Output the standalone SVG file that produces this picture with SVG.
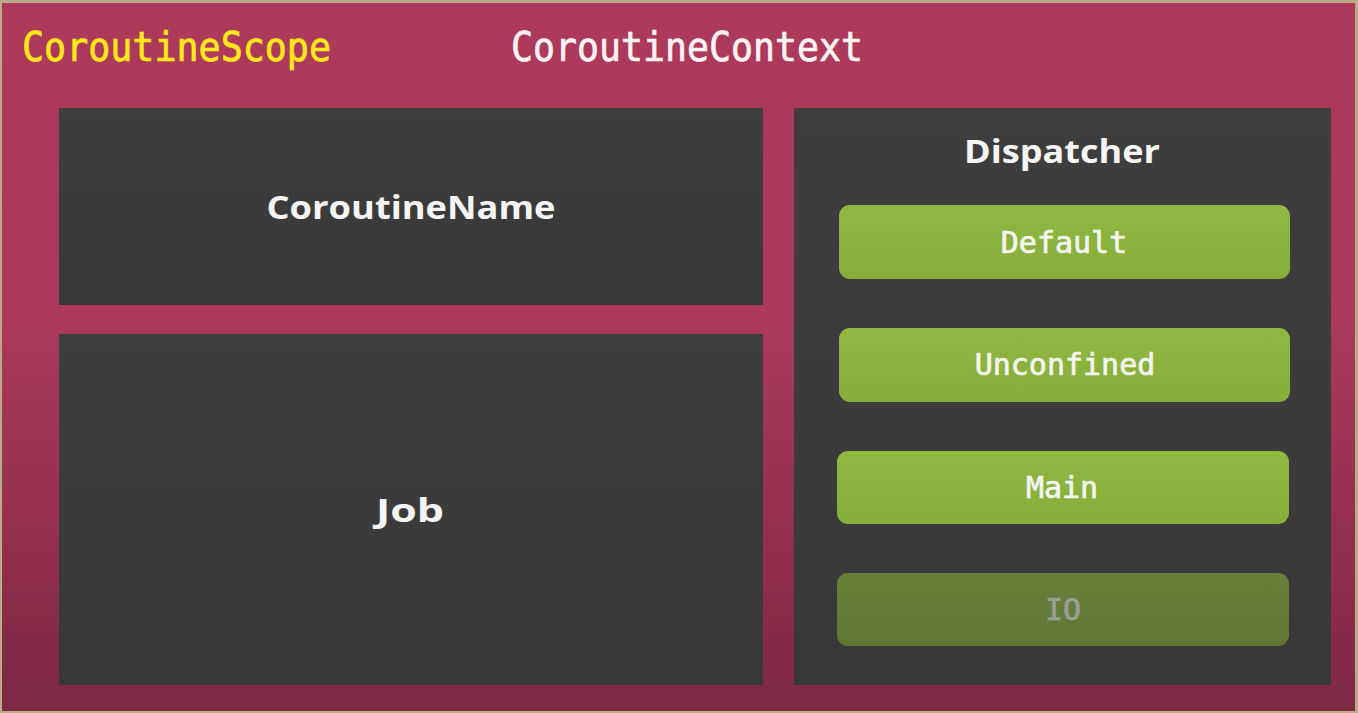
<svg xmlns="http://www.w3.org/2000/svg" width="1358" height="713" viewBox="0 0 1358 713">
  <defs>
    <linearGradient id="bg" x1="0" y1="0" x2="0" y2="1">
      <stop offset="0" stop-color="#AE3A5B"/>
      <stop offset="0.45" stop-color="#AC395A"/>
      <stop offset="1" stop-color="#7D2843"/>
    </linearGradient>
    <linearGradient id="dark" x1="0" y1="0" x2="0" y2="1">
      <stop offset="0" stop-color="#3E3E3E"/>
      <stop offset="1" stop-color="#383838"/>
    </linearGradient>
    <linearGradient id="green" x1="0" y1="0" x2="0" y2="1">
      <stop offset="0" stop-color="#90B740"/>
      <stop offset="1" stop-color="#87AE3B"/>
    </linearGradient>
    <linearGradient id="greenDim" x1="0" y1="0" x2="0" y2="1">
      <stop offset="0" stop-color="#68803A"/>
      <stop offset="1" stop-color="#5F7733"/>
    </linearGradient>
  </defs>
  <style>
    .panel { fill: url(#dark); }
    .btn { fill: url(#green); }
    .btn-dim { fill: url(#greenDim); }
    .mono { font-family: "DejaVu Sans Mono", "Liberation Mono", monospace; stroke-width: 0.7px; }
    .head { font-size: 40px; }
    .btn-text { font-size: 30px; fill: #F4F4F0; stroke: #F4F4F0; text-anchor: middle; }
    .sans { font-family: "Open Sans", "Liberation Sans", sans-serif; font-weight: 700; fill: #F5F5F5; text-anchor: middle; font-size: 32px; }
  </style>

  <rect x="0" y="0" width="1358" height="713" fill="#BDAA8A"/>
  <rect x="2" y="3" width="1353" height="708" fill="url(#bg)"/>

  <g id="scope-label">
    <text class="mono head" x="22" y="61" fill="#FFE81A" stroke="#FFE81A" textLength="309" lengthAdjust="spacingAndGlyphs">CoroutineScope</text>
  </g>
  <g id="context-label">
    <text class="mono head" x="511" y="61" fill="#F7F3F3" stroke="#F7F3F3" textLength="352" lengthAdjust="spacingAndGlyphs">CoroutineContext</text>
  </g>

  <g id="coroutine-name">
    <rect class="panel" x="59" y="108" width="704" height="197"/>
    <text class="sans" x="411" y="219" textLength="289" lengthAdjust="spacingAndGlyphs">CoroutineName</text>
  </g>

  <g id="job">
    <rect class="panel" x="59" y="334" width="704" height="351"/>
    <text class="sans" x="410" y="522" textLength="68" lengthAdjust="spacingAndGlyphs">Job</text>
  </g>

  <g id="dispatcher">
    <rect class="panel" x="794" y="108" width="537" height="577"/>
    <text class="sans" x="1062" y="163" textLength="196" lengthAdjust="spacingAndGlyphs">Dispatcher</text>
  </g>

  <g id="default">
    <rect class="btn" x="839" y="205" width="451" height="74" rx="11"/>
    <text class="mono btn-text" x="1064" y="253">Default</text>
  </g>
  <g id="unconfined">
    <rect class="btn" x="839" y="328" width="451" height="74" rx="11"/>
    <text class="mono btn-text" x="1065" y="375">Unconfined</text>
  </g>
  <g id="main">
    <rect class="btn" x="837" y="451" width="452" height="73" rx="11"/>
    <text class="mono btn-text" x="1062" y="498">Main</text>
  </g>
  <g id="io">
    <rect class="btn-dim" x="837" y="573" width="452" height="73" rx="11"/>
    <text class="mono btn-text" x="1063" y="620" style="fill:#9C9C98;stroke:#9C9C98">IO</text>
  </g>

  <g id="connectors"></g>
</svg>
